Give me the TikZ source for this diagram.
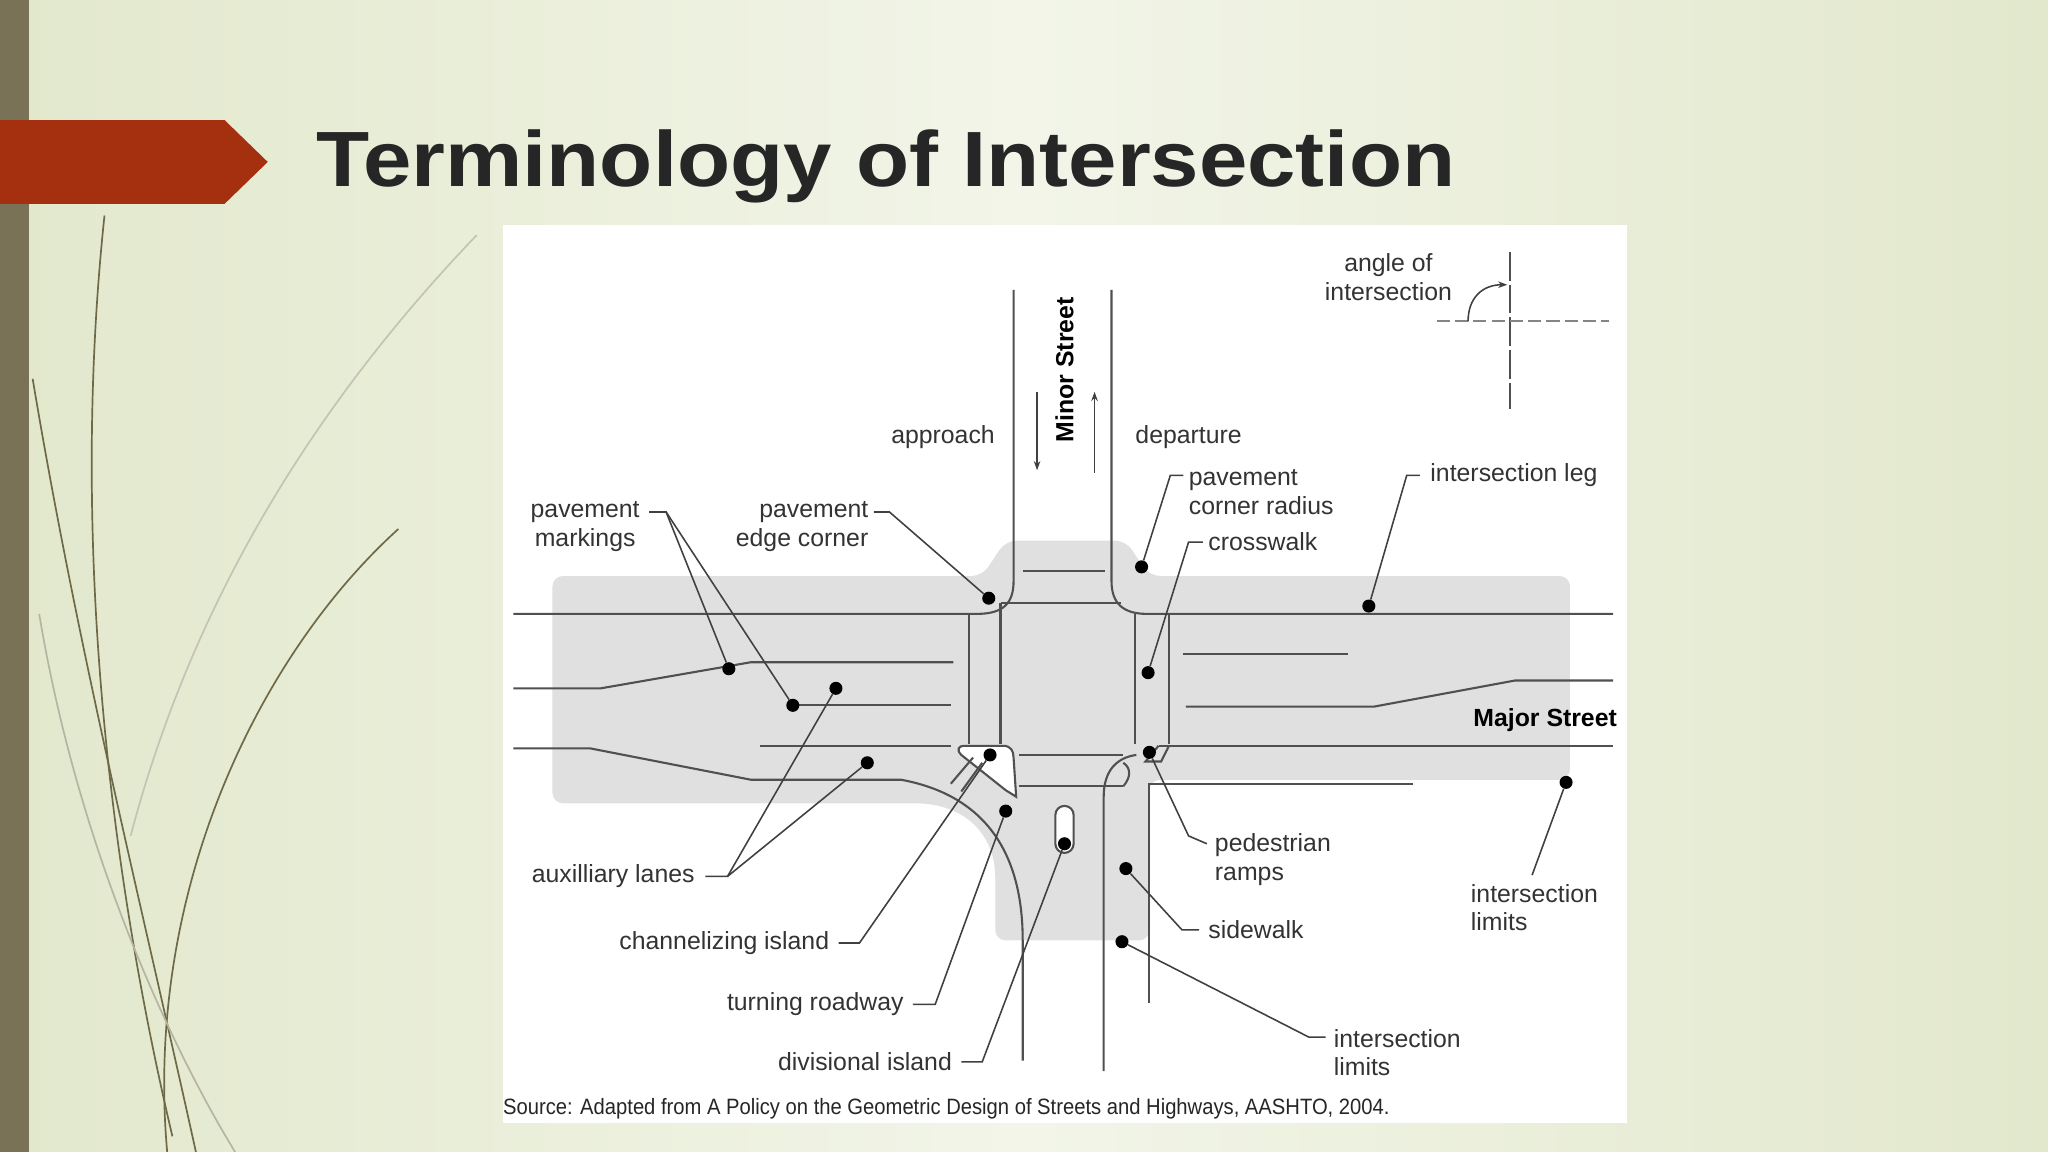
\documentclass[tikz,border=0pt]{standalone}
\usepackage{fontspec}
\setmainfont{Liberation Sans}
\usetikzlibrary{arrows.meta}
\definecolor{bgA}{HTML}{F2F5E8}
\definecolor{bgB}{HTML}{E2E8CC}
\definecolor{barc}{HTML}{7A7256}
\definecolor{redc}{HTML}{A5300F}
\definecolor{pave}{HTML}{E0E0E0}
\definecolor{ink}{HTML}{505050}
\definecolor{olive}{HTML}{6E6A48}
\tikzset{
 road/.style={draw=ink,line width=1.6pt},
 lead/.style={draw=black!75,line width=1.2pt},
 dot/.style={circle,fill=black,inner sep=0pt,minimum size=10pt},
 lbl/.style={font=\fontsize{19}{22}\selectfont,text=black!80,inner sep=0pt,align=center},
 blade/.style={draw=olive,line width=1.3pt}
}
\begin{document}
\begin{tikzpicture}[x=1pt,y=-1pt]
\useasboundingbox (0,0) rectangle (1568,882);
\shade[left color=bgB,right color=bgB,middle color=bgA] (0,0) rectangle (1568,882);
\fill[barc] (0,0) rectangle (22,882);
% decorative blades
\draw[blade] (25,290) .. controls (60,500) and (110,700) .. (150,882);
\draw[blade] (80,165) .. controls (55,400) and (80,650) .. (132,870);
\draw[blade] (305,405) .. controls (200,500) and (110,680) .. (128,882);
\draw[blade,draw=olive!40] (365,180) .. controls (250,300) and (150,450) .. (100,640);
\draw[blade,draw=olive!50] (30,470) .. controls (60,650) and (130,800) .. (180,882);
\fill[redc] (0,92) -- (172,92) -- (205,124) -- (172,156) -- (0,156) -- cycle;
\node[anchor=base west,inner sep=0pt,font=\fontsize{60}{70}\selectfont\bfseries,text=black!85,xscale=1.11] (title) at (242,143) {Terminology of Intersection};
% panel
\fill[white] (385,172) rectangle (1246,860);
% pavement
\fill[pave,rounded corners=8pt] (423,441) -- (752,441) -- (770,414) -- (862,414) -- (880,441) -- (1202,441) -- (1202,597) -- (880,597) -- (880,720) -- (762,720) -- (762,680) [sharp corners] .. controls (762,640) and (740,615) .. (700,615) [rounded corners=8pt] -- (423,615) -- cycle;
% minor street north
\draw[road] (776,222) -- (776,445) .. controls (776,462) and (768,470) .. (748,470) -- (393,470);
\draw[road] (851,222) -- (851,445) .. controls (851,462) and (860,470) .. (878,470) -- (1235,470);
\draw[road] (783,437) -- (846,437);
\draw[road] (766,462) -- (858,462);
\draw[road] (742,470) -- (742,570);
\draw[road] (766,462) -- (766,570);
\draw[road] (869,470) -- (869,570);
\draw[road] (895,470) -- (895,570);
% west
\draw[road] (393,527) -- (460,527) -- (575,507) -- (730,507);
\draw[road] (608,540) -- (728,540);
\draw[road] (582,571) -- (728,571);
\draw[road] (393,573) -- (452,573) -- (575,597) -- (690,597) .. controls (760,610) and (783,660) .. (783,720) -- (783,812);
% east
\draw[road] (906,501) -- (1032,501);
\draw[road] (908,541) -- (1052,541) -- (1160,521) -- (1235,521);
\draw[road] (887,571) -- (1235,571);
\draw[road] (1082,600) -- (880,600) -- (880,768);
% south
\draw[road] (780,578) -- (860,578);
\draw[road] (780,602) -- (860,602);
\draw[road] (845,820) -- (845,610) .. controls (845,590) and (855,580) .. (870,578);
\draw[road] (887,571) -- (877,583) -- (889,583) -- (895,571);
\draw[road] (860,602) .. controls (866,595) and (866,588) .. (860,584);
% channelizing island
\draw[road,fill=white] (738,571) -- (768,571) .. controls (774,571) and (776,575) .. (776,580) -- (778,610) -- (770,605) -- (736,578) .. controls (732,574) and (734,571) .. (738,571);
\draw[road] (728,600) -- (745,580);
\draw[road] (736,606) -- (752,584);
% divisional island
\draw[road,fill=white,rounded corners=7pt] (808,617) rectangle (822,653);
% minor street label and arrows
\node[rotate=90,font=\fontsize{19}{22}\selectfont\bfseries,inner sep=0pt] (minor) at (815,283) {Minor Street};
\coordinate (da1) at (794,300); \coordinate (da2) at (794,360);
\draw[lead,-{Stealth[length=7pt,width=5pt]}] (da1) -- (da2);
\coordinate (ua1) at (838,362); \coordinate (ua2) at (838,300);
\draw[lead,-{Stealth[length=7pt,width=5pt]}] (ua1) -- (ua2);
\node[lbl] (appr) at (722,335) {approach};
\node[lbl] (dep) at (910,335) {departure};
% angle of intersection
\coordinate (av1) at (1156,193); \coordinate (av2) at (1156,313);
\coordinate (ah1) at (1100,246); \coordinate (ah2) at (1232,246);
\draw[ink,line width=1.3pt,dash pattern=on 22pt off 3pt] (av1) -- (av2);
\draw[ink!70,line width=1.5pt,dash pattern=on 10pt off 4pt] (ah1) -- (ah2);
\coordinate (aa1) at (1124,246); \coordinate (aa2) at (1154,218);
\draw[lead,-{Stealth[length=7pt,width=5pt]}] (aa1) .. controls (1124,228) and (1135,218) .. (aa2);
\node[lbl] (ang) at (1063,212) {angle of\\intersection};
% dots
\node[dot] (dPM1) at (558,512) {};
\node[dot] (dPM2) at (607,540) {};
\node[dot] (dPE) at (757,458) {};
\node[dot] (dPR) at (874,434) {};
\node[dot] (dCW) at (879,515) {};
\node[dot] (dIL) at (1048,464) {};
\node[dot] (dAL1) at (640,527) {};
\node[dot] (dAL2) at (664,584) {};
\node[dot] (dCI) at (758,578) {};
\node[dot] (dRA) at (880,576) {};
\node[dot] (dTR) at (770,621) {};
\node[dot] (dDI) at (815,646) {};
\node[dot] (dSW) at (862,665) {};
\node[dot] (dLB) at (859,721) {};
\node[dot] (dLR) at (1199,599) {};
% labels
\node[lbl] (tPM) at (448,403) {pavement\\markings};
\node[lbl,align=right,anchor=east] (tPE) at (665,403) {pavement\\edge corner};
\node[lbl,align=left,anchor=west] (tPR) at (910,377) {pavement\\corner radius};
\node[lbl,anchor=west] (tCW) at (925,415) {crosswalk};
\node[lbl,anchor=west] (tIL) at (1095,364) {intersection leg};
\node[font=\fontsize{19}{22}\selectfont\bfseries,inner sep=0pt] (tMS) at (1183,551) {Major Street};
\node[lbl,align=left,anchor=west] (tLR) at (1126,695) {intersection\\limits};
\node[lbl,align=left,anchor=west] (tRA) at (930,658) {pedestrian\\ramps};
\node[lbl,anchor=east] (tAL) at (532,671) {auxilliary lanes};
\node[lbl,anchor=east] (tCI) at (635,722) {channelizing island};
\node[lbl,anchor=east] (tTR) at (692,769) {turning roadway};
\node[lbl,anchor=east] (tDI) at (729,813) {divisional island};
\node[lbl,anchor=west] (tSW) at (925,712) {sidewalk};
\node[lbl,align=left,anchor=west] (tLB) at (1021,806) {intersection\\limits};
% leaders
\draw[lead] (497,392) -- (510,392) -- (dPM1);
\draw[lead] (510,392) -- (dPM2);
\draw[lead] (669,392) -- (681,392) -- (dPE);
\draw[lead] (906,364) -- (896,364) -- (dPR);
\draw[lead] (921,415) -- (910,415) -- (dCW);
\draw[lead] (1087,364) -- (1077,364) -- (dIL);
\draw[lead] (dLR) -- (1173,670);
\draw[lead] (dRA) -- (910,640) -- (924,646);
\draw[lead] (540,671) -- (557,671) -- (dAL1);
\draw[lead] (557,671) -- (dAL2);
\draw[lead] (642,722) -- (658,722) -- (dCI);
\draw[lead] (699,769) -- (716,769) -- (dTR);
\draw[lead] (736,813) -- (752,813) -- (dDI);
\draw[lead] (dSW) -- (905,712) -- (918,712);
\draw[lead] (dLB) -- (1002,794) -- (1015,794);
\node[anchor=base west,inner sep=0pt,font=\fontsize{17}{20}\selectfont,xscale=0.91,text=black!85] (src) at (385,853) {Source: Adapted from A Policy on the Geometric Design of Streets and Highways, AASHTO, 2004.};
\end{tikzpicture}
\end{document}
